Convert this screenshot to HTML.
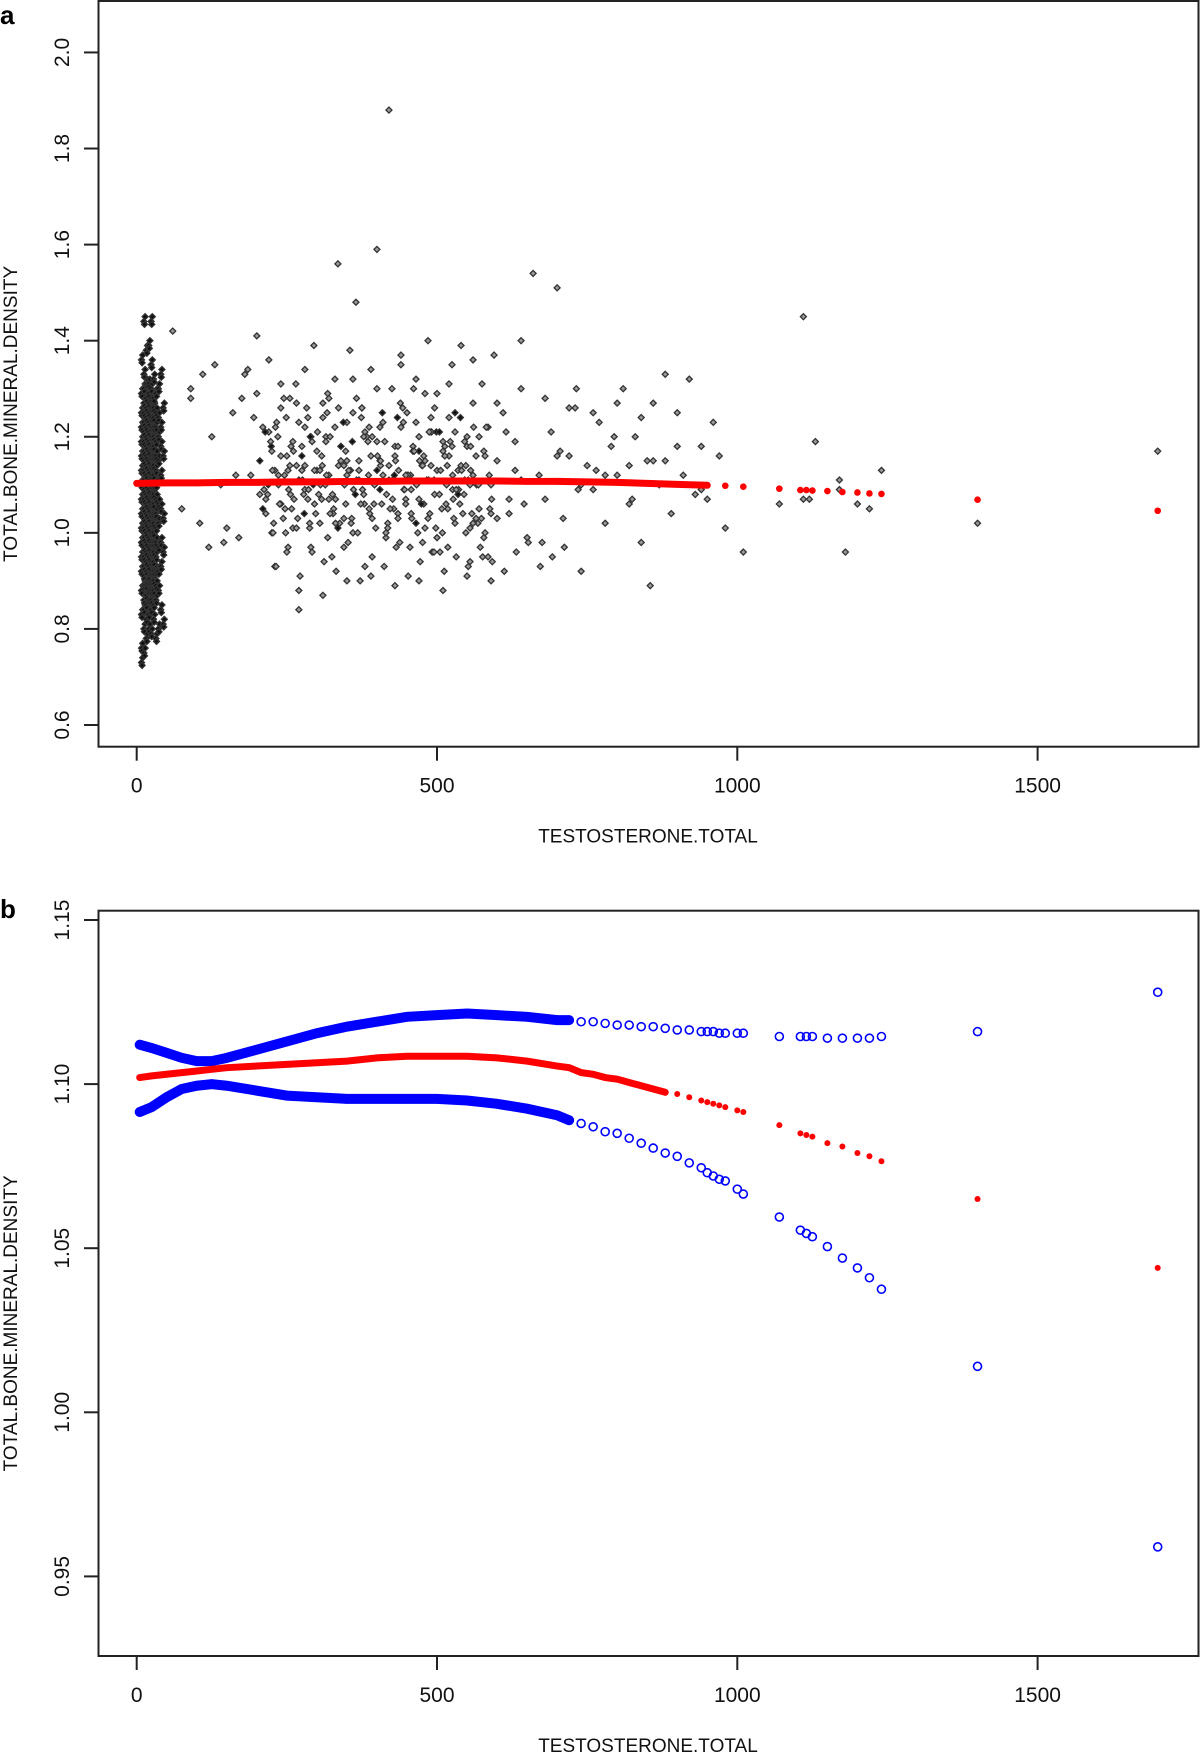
<!DOCTYPE html>
<html><head><meta charset="utf-8"><style>
html,body{margin:0;padding:0;background:#fff;}
svg{display:block;font-family:"Liberation Sans",Arial,sans-serif;}
</style></head><body>
<svg id="fig" width="1200" height="1754" viewBox="0 0 1200 1754" xmlns="http://www.w3.org/2000/svg">
<text x="0" y="24" font-size="26" font-weight="bold">a</text>
<text x="0" y="918" font-size="26" font-weight="bold">b</text>
<g id="pa"></g>
<g id="pb"></g>
</svg>
<script>
// ---- shared x axis ----
const xTicks=[0,500,1000,1500];
const xTickLabels=["0","500","1000","1500"];
// ---- panel a data ----
const aYTicks=[0.6,0.8,1.0,1.2,1.4,1.6,1.8,2.0];
const aYTickLabels=["0.6","0.8","1.0","1.2","1.4","1.6","1.8","2.0"];
const clusterX=[8,12,16,20,24,28,32,36,40,44];
const clusterY=[
[0.73,0.76,0.83,0.88,0.92,0.95,0.98,1.01,1.04,1.07,1.10,1.13,1.16,1.19,1.22,1.25,1.29,1.36],
[0.75,0.80,0.84,0.86,0.89,0.91,0.93,0.95,0.97,0.99,1.01,1.03,1.05,1.07,1.09,1.11,1.13,1.15,1.17,1.19,1.21,1.23,1.25,1.27,1.30,1.33,1.44],
[0.78,0.82,0.85,0.87,0.89,0.90,0.92,0.94,0.96,0.98,1.00,1.02,1.04,1.06,1.08,1.10,1.12,1.14,1.16,1.18,1.20,1.22,1.24,1.26,1.28,1.31,1.38],
[0.80,0.83,0.86,0.88,0.90,0.91,0.93,0.95,0.97,0.99,1.01,1.03,1.05,1.07,1.09,1.11,1.13,1.15,1.17,1.19,1.21,1.23,1.25,1.27,1.29,1.31,1.39],
[0.79,0.84,0.86,0.88,0.90,0.92,0.94,0.96,0.98,1.00,1.02,1.04,1.06,1.08,1.10,1.12,1.14,1.16,1.18,1.20,1.22,1.24,1.26,1.28,1.30,1.35,1.44],
[0.82,0.85,0.88,0.90,0.92,0.94,0.96,0.98,1.00,1.02,1.04,1.06,1.08,1.10,1.12,1.14,1.16,1.18,1.20,1.22,1.24,1.26,1.28,1.32],
[0.78,0.86,0.89,0.92,0.95,0.98,1.01,1.04,1.07,1.10,1.13,1.16,1.19,1.22,1.25,1.29],
[0.80,0.88,0.92,0.97,1.02,1.06,1.11,1.15,1.20,1.24,1.30],
[0.84,0.93,0.98,1.05,1.12,1.18,1.22,1.33],
[0.81,0.96,1.03,1.16,1.26]];
const scatX=[60,75,90,110,120,130,140,150,160,170,175,185,190,200,205,210,215,220,225,230,235,240,245,250,255,260,265,270,275,280,285,290,295,300,305,310,315,320,325,330,335,340,345,350,355,360,365,370,375,380,385,390,395,400,405,410,415,420,425,430,435,440,445,450,455,460,465,470,475,480,485,490,495,500,505,510,515,520,525,530,535,540,545,550,555,560,565,570,575,580,585,590,595,600,610,620,630,640,650,660,670,680,690,700,710,720,730,740,750,760,770,780,790,800,810,820,830,840,850,860,870,880,890,900,910,920,930,940,950,960,970,980,1010,1070,1110,1120,1170,1180,1200,1220,1240,1400,1700,
220,230,240,250,260,270,280,290,300,310,320,330,340,350,360,370,380,390,400,410,420,430,440,450,460,470,480,490,500,510,520,530,540,550,560,570,580,590,
215,228,238,248,258,268,278,288,298,308,318,328,338,348,358,368,378,388,398,408,418,428,438,448,458,468,478,488,498,508,518,528,538,548,558,568,578,588,600,620,640,
212,226,236,246,256,266,276,286,296,306,316,326,336,346,356,366,376,386,396,406,416,426,436,446,456,466,476,486,496,506,516,526,536,546,556,566,576,
232,252,272,292,312,332,352,372,392,412,432,452,472,492,512,532,552,572,592,612,632,652,672,692,712,732,
180,200,240,280,320,360,400,440,480,520,560,600,640,680,720,760,800,840,880,
90,105,125,145,165,195,225,255,285,315,345,375,405,435,465,495,525,555,585,615,645,675,705,735,765,795,825,855,
270,310,350,390,430,470,510,550,590,630,
700,740,780,820,860,900,940,1130,1110,1170,1160];
const scatY=[1.42,1.05,1.30,1.33,0.97,1.35,1.10,1.01,1.25,0.99,1.28,1.34,1.12,1.41,1.08,1.22,1.04,1.36,1.17,0.93,1.20,1.06,1.28,0.96,1.14,1.01,1.31,0.84,1.18,1.09,1.24,0.97,1.39,1.13,1.02,1.27,1.20,1.07,0.95,1.32,1.56,1.15,1.03,1.23,1.38,1.00,1.48,1.11,1.26,0.93,1.19,1.34,1.06,1.59,1.22,1.12,0.99,1.88,1.30,1.16,1.04,1.37,1.09,1.25,0.97,1.18,1.32,1.07,1.14,1.01,1.40,1.21,1.11,1.29,0.96,1.17,1.06,1.24,1.35,1.02,1.13,1.39,1.08,1.20,0.94,1.27,1.16,1.05,1.31,1.00,1.22,1.10,1.37,1.15,1.25,1.04,1.19,1.40,0.99,1.54,1.12,1.07,1.21,1.51,1.03,1.16,1.26,0.92,1.14,1.09,1.23,1.02,1.18,1.12,1.30,1.06,1.20,0.98,1.15,1.27,1.10,1.33,1.04,1.25,1.12,1.32,1.08,1.18,1.07,1.23,1.16,1.01,0.96,1.06,1.45,1.07,1.09,0.96,1.06,1.05,1.13,1.02,
1.17,1.21,1.13,1.26,1.16,1.19,1.23,1.14,1.20,1.17,1.24,1.12,1.22,1.18,1.15,1.25,1.13,1.21,1.16,1.19,1.23,1.14,1.18,1.22,1.12,1.17,1.20,1.15,1.24,1.13,1.19,1.16,1.21,1.14,1.18,1.12,1.20,1.16,
1.04,1.07,1.02,1.06,1.00,1.05,1.03,1.08,1.01,1.04,1.07,0.99,1.05,1.02,1.06,1.03,1.00,1.08,1.04,1.01,1.06,1.02,1.05,0.98,1.07,1.03,1.00,1.06,1.04,1.01,1.05,0.97,1.03,1.06,1.00,1.04,1.02,0.99,1.05,1.03,1.07,
1.11,1.09,1.13,1.10,1.12,1.08,1.14,1.11,1.09,1.13,1.10,1.12,1.08,1.14,1.10,1.13,1.11,1.09,1.12,1.10,1.14,1.08,1.11,1.13,1.09,1.12,1.10,1.14,1.11,1.08,1.13,1.10,1.12,1.09,1.11,1.13,1.10,
0.95,0.93,0.97,0.91,0.96,0.94,0.92,0.98,0.90,0.95,0.93,0.97,0.91,0.94,0.96,0.92,0.95,0.93,0.97,0.94,0.92,0.96,0.98,0.93,0.95,0.97,
1.30,1.33,1.29,1.31,1.34,1.28,1.32,1.30,1.35,1.29,1.31,1.36,1.27,1.30,1.28,1.26,1.25,1.27,1.24,
1.15,1.28,1.02,1.20,0.98,1.12,1.24,1.00,1.28,1.07,1.19,0.97,1.26,1.15,1.03,1.23,0.96,1.18,1.10,0.95,1.21,1.06,0.98,1.17,1.09,1.13,1.20,1.07,
0.89,0.88,0.87,0.90,0.91,0.89,0.90,0.88,0.91,0.90,
1.13,1.16,1.10,1.12,1.14,1.15,1.18,1.09,1.19,1.07,1.11];
const denseX=[205,218,231,244,257,270,283,296,309,322,335,348,361,374,387,400,413,426,439,452,465,478,491,504,517,530,543,556,569,582,
210,223,236,249,262,275,288,301,314,327,340,353,366,379,392,405,418,431,444,457,470,483,496,509,522,535,548,561,574,587,
214,227,240,253,266,279,292,305,318,331,344,357,370,383,396,409,422,435,448,461,474,487,500,513,526,539,552,565,578,591,
219,233,247,261,275,289,303,317,331,345,359,373,387,401,415,429,443,457,471,485,499,513,527,541,555,
224,238,252,266,280,294,308,322,336,350,364,378,392,406,420,434,448,462,476,490,504,518,532,546,560];
const denseY=[1.15,1.08,1.22,1.03,1.18,1.11,1.26,1.06,1.14,1.20,1.01,1.17,1.09,1.24,1.05,1.13,1.19,1.07,1.27,1.12,1.02,1.16,1.21,1.08,1.14,1.25,1.04,1.18,1.10,1.22,
1.05,1.19,1.12,1.24,1.07,1.16,1.02,1.21,1.10,1.04,1.18,1.13,1.28,1.06,1.20,1.09,1.01,1.15,1.23,1.04,1.17,1.11,1.26,1.00,1.19,1.08,1.14,1.22,1.03,1.12,
1.21,1.00,1.16,1.09,1.27,1.04,1.19,1.13,1.29,1.07,1.23,1.02,1.15,1.20,1.10,1.25,1.05,1.18,1.12,1.30,1.06,1.21,0.99,1.16,1.09,1.24,1.11,1.03,1.17,1.07,
1.10,1.23,1.05,1.17,1.13,1.20,1.08,1.25,1.02,1.14,1.19,1.06,1.22,1.16,1.00,1.12,1.26,1.09,1.15,1.03,1.21,1.18,1.07,1.13,1.01,
1.18,1.06,1.13,1.01,1.22,1.10,1.16,1.04,1.26,1.12,1.08,1.20,1.03,1.15,1.11,1.24,1.06,1.17,0.98,1.14,1.21,1.05,1.09,1.19,1.02];
const aFitX=[0,50,100,150,200,250,300,350,400,450,500,550,600,650,700,750,800,850,900,950,980,1010,1070,1105,1115,1125,1150,1175,1200,1220,1240,1400,1700];
const aFitY=[1.103,1.104,1.104,1.105,1.105,1.106,1.106,1.107,1.107,1.108,1.108,1.108,1.108,1.107,1.107,1.106,1.105,1.103,1.101,1.099,1.098,1.096,1.092,1.089,1.089,1.088,1.087,1.085,1.084,1.082,1.081,1.069,1.046];
// ---- panel b data ----
const bYTicks=[0.95,1.00,1.05,1.10,1.15];
const bYTickLabels=["0.95","1.00","1.05","1.10","1.15"];
const bX=[5,25,50,75,100,125,150,200,250,300,350,400,450,500,550,600,650,700,720,740,760,780,800,820,840,860,880,900,920,940,950,960,970,980,1000,1010,1070,1105,1115,1125,1150,1175,1200,1220,1240,1400,1700];
const bFit=[1.102,1.1025,1.103,1.1035,1.104,1.1045,1.105,1.1055,1.106,1.1065,1.107,1.108,1.1085,1.1085,1.1085,1.108,1.107,1.1055,1.105,1.1035,1.103,1.102,1.1015,1.1005,1.0995,1.0985,1.0975,1.097,1.096,1.095,1.0945,1.094,1.0935,1.093,1.092,1.0915,1.0875,1.085,1.0845,1.084,1.082,1.081,1.079,1.078,1.0765,1.065,1.044];
const bUpper=[1.112,1.111,1.1095,1.108,1.107,1.107,1.108,1.1105,1.113,1.1155,1.1175,1.119,1.1205,1.121,1.1215,1.121,1.1205,1.1195,1.1195,1.119,1.119,1.1185,1.118,1.118,1.1175,1.1175,1.117,1.1165,1.1165,1.116,1.116,1.116,1.1155,1.1155,1.1155,1.1155,1.1145,1.1145,1.1145,1.1145,1.114,1.114,1.114,1.114,1.1145,1.116,1.128];
const bLower=[1.0915,1.093,1.096,1.0985,1.0995,1.1,1.0995,1.098,1.0965,1.096,1.0955,1.0955,1.0955,1.0955,1.095,1.094,1.0925,1.0905,1.089,1.088,1.087,1.0855,1.085,1.0835,1.082,1.0805,1.079,1.078,1.076,1.0745,1.073,1.072,1.071,1.0705,1.068,1.0665,1.0595,1.0555,1.0545,1.0535,1.0505,1.047,1.044,1.041,1.0375,1.014,0.959];

const NS="http://www.w3.org/2000/svg";
function mk(tag,attrs,parent){const e=document.createElementNS(NS,tag);for(const k in attrs)e.setAttribute(k,attrs[k]);parent.appendChild(e);return e;}
const X0=136.7,XK=0.6006;
function xS(v){return X0+v*XK;}
function yA(v){return 725-(v-0.6)*480.4;}
function yB(v){return 920-(v-1.15)*3282;}

function frame(g,top,bottom,yTicks,yLabels,yFn,name){
  const fr=mk('rect',{x:98.5,y:top,width:1100,height:bottom-top,fill:'none',stroke:'#222','stroke-width':2},g);
  
  
  xTicks.forEach((t,i)=>{
    const l=mk('line',{x1:xS(t),x2:xS(t),y1:bottom,y2:bottom+14,stroke:'#222','stroke-width':2},g);
    
    
    const tx=mk('text',{x:xS(t),y:bottom+46,'font-size':21,'text-anchor':'middle',fill:'#111'},g);
    tx.textContent=xTickLabels[i];
    
    
  });
  yTicks.forEach((t,i)=>{
    const y=yFn(t);
    const l=mk('line',{x1:84,x2:98.5,y1:y,y2:y,stroke:'#222','stroke-width':2},g);
    
    
    const tx=mk('text',{x:0,y:0,'font-size':21,'text-anchor':'middle',fill:'#111',transform:`translate(69,${y}) rotate(-90)`},g);
    tx.textContent=yLabels[i];
    
    
  });
  const xt=mk('text',{x:648,y:bottom+96,'font-size':19,'text-anchor':'middle',fill:'#111'},g);
  xt.textContent='TESTOSTERONE.TOTAL';
  
  
  const mid=(top+bottom)/2+40;
  const yt=mk('text',{x:0,y:0,'font-size':19,'text-anchor':'middle',fill:'#111',transform:`translate(17,${mid}) rotate(-90)`},g);
  yt.textContent='TOTAL.BONE.MINERAL.DENSITY';
  
  
}
function diamond(g,cx,cy,fill){
  const p=mk('path',{d:`M${cx} ${cy-3}L${cx+3} ${cy}L${cx} ${cy+3}L${cx-3} ${cy}Z`,fill:fill,stroke:'#333','stroke-width':1.3},g);
  
  
}
const pa=document.getElementById('pa'),pb=document.getElementById('pb');
frame(pa,1,746.7,aYTicks,aYTickLabels,yA,'panel-a');
frame(pb,910.7,1656,bYTicks,bYTickLabels,yB,'panel-b');
// panel a scatter
const sg=mk('g',{},pa);


clusterX.forEach((cx,i)=>{
  clusterY[i].forEach(v=>diamond(sg,xS(cx),yA(v),'#111'));
  clusterY[i].forEach(v=>diamond(sg,xS(cx+2),yA(v+0.01),'#111'));
  clusterY[i].forEach(v=>diamond(sg,xS(cx+1),yA(v-0.006),'#111'));
});
scatX.forEach((v,i)=>diamond(sg,xS(v),yA(scatY[i]),'#999'));
denseX.forEach((v,i)=>diamond(sg,xS(v),yA(denseY[i]),i%5===0?'#111':'#999'));
// panel a fit
const fa=mk('g',{},pa);


const dense=aFitX.filter(v=>v<=950);
mk('polyline',{points:dense.map(v=>xS(v)+','+yA(aFitY[aFitX.indexOf(v)])).join(' '),fill:'none',stroke:'#f00','stroke-width':7,'stroke-linecap':'round'},fa);
aFitX.forEach((v,i)=>{const c=mk('circle',{cx:xS(v),cy:yA(aFitY[i]),r:3.3,fill:'#f00'},fa);
  
  });
// panel b
function band(arr,color,name,open,limit){
  const g=mk('g',{},pb);
  
  
  const pts=bX.map((v,i)=>[v,arr[i]]).filter(p=>p[0]<=limit);
  mk('polyline',{points:pts.map(p=>xS(p[0])+','+yB(p[1])).join(' '),fill:'none',stroke:color,'stroke-width':open?10:7,'stroke-linecap':'round'},g);
  bX.forEach((v,i)=>{
    const c=open?mk('circle',{cx:xS(v),cy:yB(arr[i]),r:4,fill:'none',stroke:color,'stroke-width':1.6},g)
                :mk('circle',{cx:xS(v),cy:yB(arr[i]),r:3,fill:color},g);
    
    
  });
}
band(bUpper,'#00f','upper-ci',true,720);
band(bLower,'#00f','lower-ci',true,720);
band(bFit,'#f00','fit-line-b',false,880);
</script>
</body></html>
